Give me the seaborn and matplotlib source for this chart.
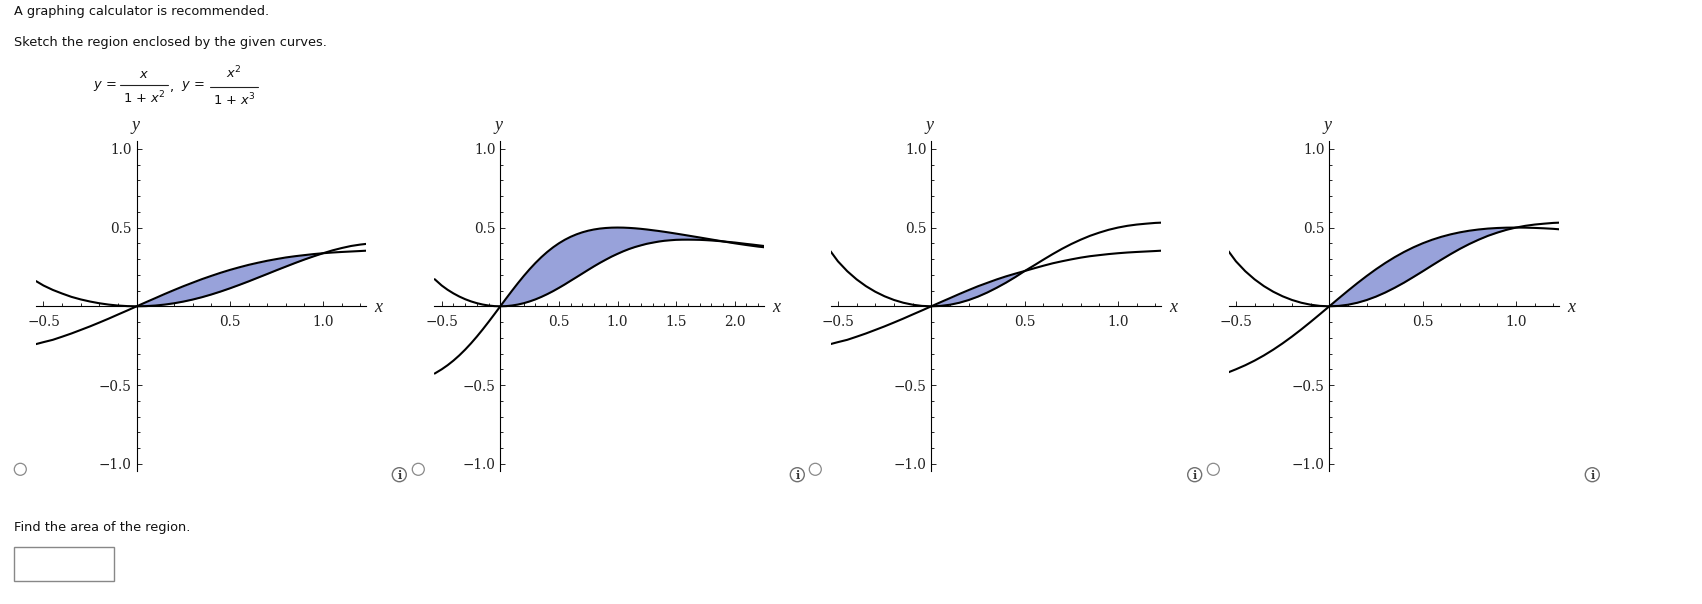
import numpy as np
import pandas as pd
import matplotlib
matplotlib.use("Agg")
import matplotlib.pyplot as plt
from matplotlib.patches import Circle, Rectangle
from matplotlib.ticker import MultipleLocator
import seaborn as sns

W, H = 1702, 604
FILL = "#98a2da"

# values
x1 = [-0.54,-0.5,-0.45,-0.4,-0.35,-0.3,-0.25,-0.2,-0.15,-0.1,-0.05,0,
      0.05,0.1,0.15,0.2,0.25,0.3,0.35,0.4,0.45,0.5,0.55,0.6,0.65,0.7,0.75,0.8,0.85,0.9,0.95,1.0,1.05,1.1,1.15,1.2,1.23]
upper1 = [-0.24,-0.2275,-0.2128,-0.193,-0.1725,-0.15,-0.1273,-0.103,-0.0781,-0.052,-0.0263,0,
          0.0263,0.052,0.0781,0.103,0.1273,0.15,0.1725,0.193,0.2128,0.231,0.2475,0.263,0.2765,0.289,0.2999,0.31,0.3181,0.325,0.3316,0.337,0.3415,0.345,0.348,0.351,0.353]
lower1 = [0.16,0.132,0.104,0.081,0.0599,0.0436,0.0302,0.0192,0.0108,0.0048,0.0012,0,
          0.0012,0.0048,0.0108,0.0191,0.0298,0.0427,0.0577,0.0748,0.0936,0.114,0.1356,0.158,0.1816,0.205,0.2289,0.252,0.275,0.297,0.3175,0.337,0.355,0.37,0.383,0.392,0.396]

x2 = [-0.56,-0.5,-0.45,-0.4,-0.35,-0.3,-0.25,-0.2,-0.15,-0.1,-0.05,0,
      0.05,0.1,0.15,0.2,0.25,0.3,0.35,0.4,0.45,0.5,0.55,0.6,0.65,0.7,0.75,0.8,0.85,0.9,0.95,1.0,1.05,1.1,1.15,1.2,
      1.25,1.3,1.35,1.4,1.45,1.5,1.55,1.6,1.65,1.7,1.75,1.8,1.85,1.9,1.95,2.0,2.05,2.1,2.15,2.2,2.25]
upper2 = [-0.427,-0.4,-0.3742,-0.3448,-0.3118,-0.2752,-0.2353,-0.1923,-0.1467,-0.099,-0.0499,0,
          0.0499,0.099,0.1467,0.1923,0.2353,0.2752,0.3118,0.3448,0.3742,0.4,0.4223,0.4412,0.4569,0.4698,0.48,0.4878,0.4935,0.4972,0.4993,0.5,0.4994,0.4977,0.4952,0.4918,
          0.4878,0.483,0.4783,0.473,0.4674,0.4615,0.4555,0.4494,0.4432,0.4371,0.4308,0.4245,0.4183,0.4121,0.406,0.4,0.3945,0.389,0.384,0.379,0.375]
lower2 = [0.172,0.1321,0.1051,0.082,0.0621,0.0452,0.0312,0.0199,0.0112,0.005,0.0012,0,
          0.0012,0.005,0.0111,0.0197,0.0308,0.044,0.0595,0.077,0.0961,0.117,0.1388,0.162,0.1848,0.208,0.2313,0.254,0.2757,0.296,0.3156,0.333,0.3494,0.364,0.3765,0.387,
          0.3968,0.404,0.4108,0.416,0.4192,0.422,0.423,0.4232,0.4228,0.422,0.4202,0.418,0.4151,0.412,0.4084,0.405,0.4005,0.396,0.3919,0.3874,0.383]

x3 = list(x1)
upper3 = [-0.24,-0.2275,-0.2128,-0.193,-0.1725,-0.15,-0.1273,-0.103,-0.0781,-0.052,-0.0263,0,
          0.0263,0.052,0.0781,0.103,0.1273,0.149,0.1705,0.19,0.2075,0.224,0.241,0.2575,0.273,0.286,0.298,0.309,0.3181,0.325,0.3316,0.337,0.3415,0.345,0.348,0.351,0.353]
lower3 = [0.35,0.2857,0.2228,0.171,0.128,0.0925,0.0635,0.0403,0.0226,0.0101,0.0025,0,
          0.0025,0.0099,0.0224,0.0397,0.0615,0.0876,0.1175,0.15,0.1856,0.224,0.2594,0.296,0.3315,0.365,0.3956,0.423,0.4476,0.468,0.4859,0.5,0.511,0.519,0.5246,0.5295,0.531]

x4 = list(x1)
upper4 = [-0.419,-0.4,-0.3742,-0.3448,-0.3118,-0.2752,-0.2353,-0.1923,-0.1467,-0.099,-0.0499,0,
          0.0499,0.099,0.1467,0.1923,0.2353,0.2752,0.3118,0.3448,0.3742,0.4,0.4223,0.4412,0.4569,0.4698,0.48,0.4878,0.4935,0.4972,0.4993,0.5,0.4994,0.4977,0.4952,0.4918,0.489]
lower4 = [0.35,0.2857,0.2228,0.171,0.128,0.0925,0.0635,0.0403,0.0226,0.0101,0.0025,0,
          0.0025,0.0099,0.0224,0.0397,0.0615,0.0876,0.1175,0.15,0.1856,0.222,0.2594,0.296,0.3315,0.365,0.3956,0.423,0.4476,0.468,0.4859,0.5,0.511,0.519,0.5246,0.5295,0.531]

fill_ends = [1.0, 1.9, 0.5, 1.0]
xticks1 = [-0.5, 0.5, 1.0]
xticks2 = [-0.5, 0.5, 1.0, 1.5, 2.0]
xlabels1 = ["\u22120.5", "0.5", "1.0"]
xlabels2 = ["\u22120.5", "0.5", "1.0", "1.5", "2.0"]
yticks = [-1.0, -0.5, 0.5, 1.0]
ylabels = ["\u22121.0", "\u22120.5", "0.5", "1.0"]

sns.set_style("white")
plt.rcParams['font.family'] = ['DejaVu Sans']
plt.rcParams['mathtext.fontset'] = 'dejavusans'

fig = plt.figure(figsize=(W/100, H/100), dpi=100)

# pixel layer for the page text and form widgets
page = fig.add_axes([0, 0, 1, 1], zorder=5)
page.set_xlim(0, W)
page.set_ylim(H, 0)
page.axis("off")
page.patch.set_alpha(0)

panels = [
    (x1, upper1, lower1, xticks1, xlabels1, 36, 366, 136.7),
    (x2, upper2, lower2, xticks2, xlabels2, 434, 764, 500.3),
    (x3, upper3, lower3, xticks1, xlabels1, 831, 1161, 931.3),
    (x4, upper4, lower4, xticks1, xlabels1, 1229, 1559, 1329.3),
]
top, bottom, zero_y = 141, 470.7, 306.3

for (xs, up, lo, xt, xl, left, right, zero_x), end in zip(panels, fill_ends):
    ax = fig.add_axes([left/W, 1-bottom/H, (right-left)/W, (bottom-top)/H])
    ax.patch.set_alpha(0)
    df = pd.DataFrame({"x": xs, "upper": up, "lower": lo})
    mask = df["x"].between(0, end)
    ax.fill_between(df["x"][mask], df["lower"][mask], df["upper"][mask], color=FILL, lw=0)
    sns.lineplot(data=df, x="x", y="upper", color="black", lw=1.5, ax=ax)
    sns.lineplot(data=df, x="x", y="lower", color="black", lw=1.5, ax=ax)

    # scale: the x unit comes from the tick spacing seen in the panel
    unit = (right-zero_x) / xs[-1]
    ax.set_xlim((left-zero_x)/unit, xs[-1])
    ax.set_ylim((zero_y-bottom)/157.5, (zero_y-top)/157.5)
    ax.set_xlabel("")
    ax.set_ylabel("")
    for s in ["top", "right"]:
        ax.spines[s].set_visible(False)
    ax.spines["left"].set_position(("data", 0))
    ax.spines["bottom"].set_position(("data", 0))
    for s in ["left", "bottom"]:
        ax.spines[s].set_linewidth(0.8)
        ax.spines[s].set_color("black")
    ax.set_xticks(xt)
    ax.set_xticklabels(xl, family="DejaVu Serif", fontsize=9.8, color="#222222")
    ax.set_yticks(yticks)
    ax.set_yticklabels(ylabels, family="DejaVu Serif", fontsize=9.8, color="#222222")
    ax.xaxis.set_minor_locator(MultipleLocator(0.1))
    ax.yaxis.set_minor_locator(MultipleLocator(0.1))
    ax.tick_params(which="major", direction="in", length=3.5, width=0.7, left=True, bottom=True)
    ax.tick_params(which="minor", direction="in", length=2, width=0.7, left=True, bottom=True)
    ax.tick_params(axis="x", which="major", pad=6.5)
    ax.tick_params(axis="y", which="major", pad=3.5)
    page.text(right+12.5, zero_y+1, "x", family="Liberation Serif", style="italic", fontsize=13,
              ha="center", va="center", color="#222222")
    page.text(zero_x-1.5, 126, "y", family="Liberation Serif", style="italic", fontsize=13,
              ha="center", va="center", color="#222222")

# page text
txt = dict(fontsize=9.3, color="#111111", va="center")
page.text(14.5, 11.5, "A graphing calculator is recommended.", **txt)
page.text(14.5, 42.5, "Sketch the region enclosed by the given curves.", **txt)
page.text(14.5, 528, "Find the area of the region.", **txt)

eq = dict(fontsize=9.4, color="#111111", va="center", ha="center")
page.text(105, 86, "$y$ =", **eq)
page.text(143.7, 75, "$x$", **eq)
page.plot([120, 167.7], [85, 85], color="#222222", lw=0.8)
page.text(144, 98, "1 + $x^2$", **eq)
page.text(171, 87, ",", **eq)
page.text(193, 86, "$y$ =", **eq)
page.text(234, 73, "$x^2$", **eq)
page.plot([210, 257.7], [87.3, 87.3], color="#222222", lw=0.8)
page.text(234, 99.5, "1 + $x^3$", **eq)

# radio buttons and info icons
for cx in [20.3, 418.3, 815.3, 1213.3]:
    page.add_patch(Circle((cx, 469.3), 6, fill=False, ec="#8a8a8a", lw=0.9))
for cx in [399.3, 797.3, 1194.7, 1592.3]:
    page.add_patch(Circle((cx, 474.7), 7, fill=False, ec="#707070", lw=1))
    page.text(cx, 475.2, "i", family="DejaVu Serif", weight="bold", fontsize=8,
              ha="center", va="center", color="#333333")

page.add_patch(Rectangle((14.3, 547.3), 99.4, 34, fill=False, ec="#888888", lw=1))

fig.savefig("out.png", dpi=100)
